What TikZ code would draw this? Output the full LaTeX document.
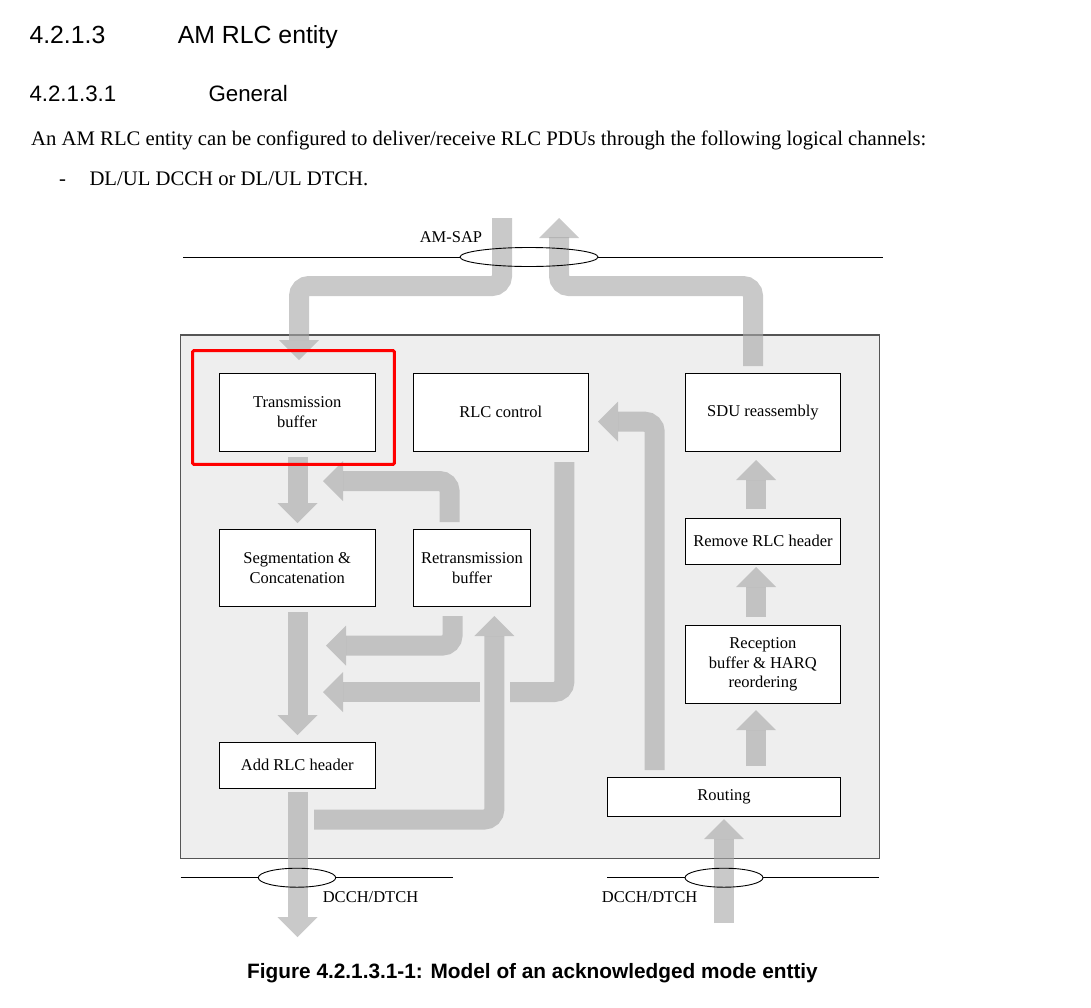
\documentclass[tikz,border=0pt]{standalone}
\usepackage{fontspec}
\setmainfont{Liberation Serif}
\newfontfamily\arialfont{Liberation Sans}
\usetikzlibrary{calc}
\definecolor{boxfill}{RGB}{238,238,238}
\definecolor{arrowgray}{RGB}{168,168,168}
\definecolor{framegray}{RGB}{85,85,85}
\tikzset{
  blk/.style={draw=black, line width=1pt, fill=white, inner sep=0pt, align=center,
    font=\fontsize{16.5}{19.5}\selectfont},
  shaft/.style={draw=arrowgray, line width=20pt, draw opacity=0.62, rounded corners=10pt},
  headfill/.style={fill=arrowgray, fill opacity=0.62},
  hd/.pic={\fill[headfill] (0,0) -- (-20,-20) -- (20,-20) -- cycle;},
  lbl/.style={font=\fontsize{16.5}{19.5}\selectfont, inner sep=0pt},
  chan/.style={draw=black, line width=0.9pt},
  headtxt/.style={anchor=base west, inner sep=0pt},
}
\begin{document}
\begin{tikzpicture}[x=1pt, y=-1pt]
\useasboundingbox (0,0) rectangle (1091,1007);
\fill[white] (0,0) rectangle (1091,1007);

% headings and text
\node[headtxt, font=\arialfont\fontsize{24.8}{28}\selectfont] (h1) at (29.3,43.3) {4.2.1.3};
\node[headtxt, font=\arialfont\fontsize{24.8}{28}\selectfont] (h1t) at (177.7,43.3) {AM RLC entity};
\node[headtxt, font=\arialfont\fontsize{22.3}{26}\selectfont] (h2) at (29.3,101) {4.2.1.3.1};
\node[headtxt, font=\arialfont\fontsize{22.3}{26}\selectfont] (h2t) at (208.3,101) {General};
\node[headtxt, font=\fontsize{20.7}{24}\selectfont] (p1) at (31,145) {An AM RLC entity can be configured to deliver/receive RLC PDUs through the following logical channels:};
\node[headtxt, font=\fontsize{20.7}{24}\selectfont] (dash) at (59,185.7) {-};
\node[headtxt, font=\fontsize{20.7}{24}\selectfont] (p2) at (89.3,185.7) {DL/UL DCCH or DL/UL DTCH.};
\node[anchor=base, inner sep=0pt, font=\arialfont\bfseries\fontsize{20.8}{24}\selectfont] (cap) at (532.5,978) {Figure 4.2.1.3.1-1: Model of an acknowledged mode enttiy};

% entity frame
\draw[fill=boxfill, draw=framegray, line width=1.1pt] (180.5,335) rectangle (879.3,858.5);

% blocks
\node[blk, minimum width=155.7pt, minimum height=77.7pt] (tb) at (297.2,412.2) {Transmission\\buffer};
\node[blk, minimum width=175pt, minimum height=77.7pt] (rlc) at (500.8,412.2) {RLC control};
\node[blk, minimum width=155.7pt, minimum height=77.7pt] (sdu) at (762.9,412.2) {SDU reassembly};
\node[blk, minimum width=155.7pt, minimum height=77.7pt] (sc) at (297.2,567.9) {Segmentation \&\\Concatenation};
\node[blk, minimum width=117.4pt, minimum height=77.7pt] (rb) at (472,567.9) {Retransmission\\buffer};
\node[blk, minimum width=155.7pt, minimum height=46pt] (rem) at (762.9,541.3) {Remove RLC header};
\node[blk, minimum width=155.7pt, minimum height=77.6pt] (rec) at (762.9,664.5) {Reception\\buffer \& HARQ\\reordering};
\node[blk, minimum width=155.7pt, minimum height=46pt] (add) at (297.2,765.3) {Add RLC header};
\node[blk, minimum width=233.4pt, minimum height=38.7pt] (rout) at (724,796.7) {Routing};

% arrow end coordinates
\coordinate (sapin) at (502,218);
\coordinate (sapout) at (559,218);
\coordinate (chout) at (297.5,937);
\coordinate (chin) at (724,923);

% fat arrows
\draw[shaft] (sapin) -- (502,286) -- (299,286) -- (299,340);
\pic at (299,360) {hd};
\draw[shaft] (753,366) -- (753,286) -- (559,286) -- (559,237);
\pic[rotate=180] at (sapout) {hd};
\draw[shaft] (297.5,457) -- (297.5,503);
\pic at (297.5,523) {hd};
\draw[shaft] (449.5,522) -- (449.5,481) -- (343,481);
\pic[rotate=-90] at (323,481) {hd};
\draw[shaft] (297.5,612) -- (297.5,715);
\pic at (297.5,735) {hd};
\draw[shaft] (452.5,616) -- (452.5,645.5) -- (346,645.5);
\pic[rotate=-90] at (326,645.5) {hd};
\draw[shaft] (564.3,462) -- (564.3,692) -- (510,692);
\draw[shaft] (480,692) -- (343,692);
\pic[rotate=-90] at (323,692) {hd};
\draw[shaft] (314,819.5) -- (494.3,819.5) -- (494.3,636);
\pic[rotate=180] at (494.3,616) {hd};
\draw[shaft] (297.5,792) -- (297.5,917);
\pic at (chout) {hd};
\draw[shaft] (654.7,770) -- (654.7,421.7) -- (618,421.7);
\pic[rotate=-90] at (598,421.7) {hd};
\draw[shaft] (756,766) -- (756,730);
\pic[rotate=180] at (756,710) {hd};
\draw[shaft] (756,617) -- (756,587);
\pic[rotate=180] at (756,567) {hd};
\draw[shaft] (756,509) -- (756,480);
\pic[rotate=180] at (756,460) {hd};
\draw[shaft] (chin) -- (724,839);
\pic[rotate=180] at (724,819) {hd};

% SAP lines and ellipses
\draw[chan] (183,257) -- (460,257);
\draw[chan] (598,257) -- (883,257);
\draw[chan] (529,257) ellipse [x radius=69pt, y radius=9.5pt];
\draw[chan] (180.7,877.7) -- (258.3,877.7);
\draw[chan] (335.7,877.7) -- (452.7,877.7);
\draw[chan] (297,877.7) ellipse [x radius=38.7pt, y radius=9.5pt];
\draw[chan] (607.3,877.7) -- (685,877.7);
\draw[chan] (763,877.7) -- (879.3,877.7);
\draw[chan] (724,877.7) ellipse [x radius=39pt, y radius=9.5pt];

\node[lbl] (sap) at (451,237) {AM-SAP};
\node[lbl] (ch1) at (370.5,897) {DCCH/DTCH};
\node[lbl] (ch2) at (649.5,897) {DCCH/DTCH};

% highlight
\draw[red, line width=3pt, rounded corners=1pt] (192.7,350.7) rectangle (394.3,464.3);
\end{tikzpicture}
\end{document}
